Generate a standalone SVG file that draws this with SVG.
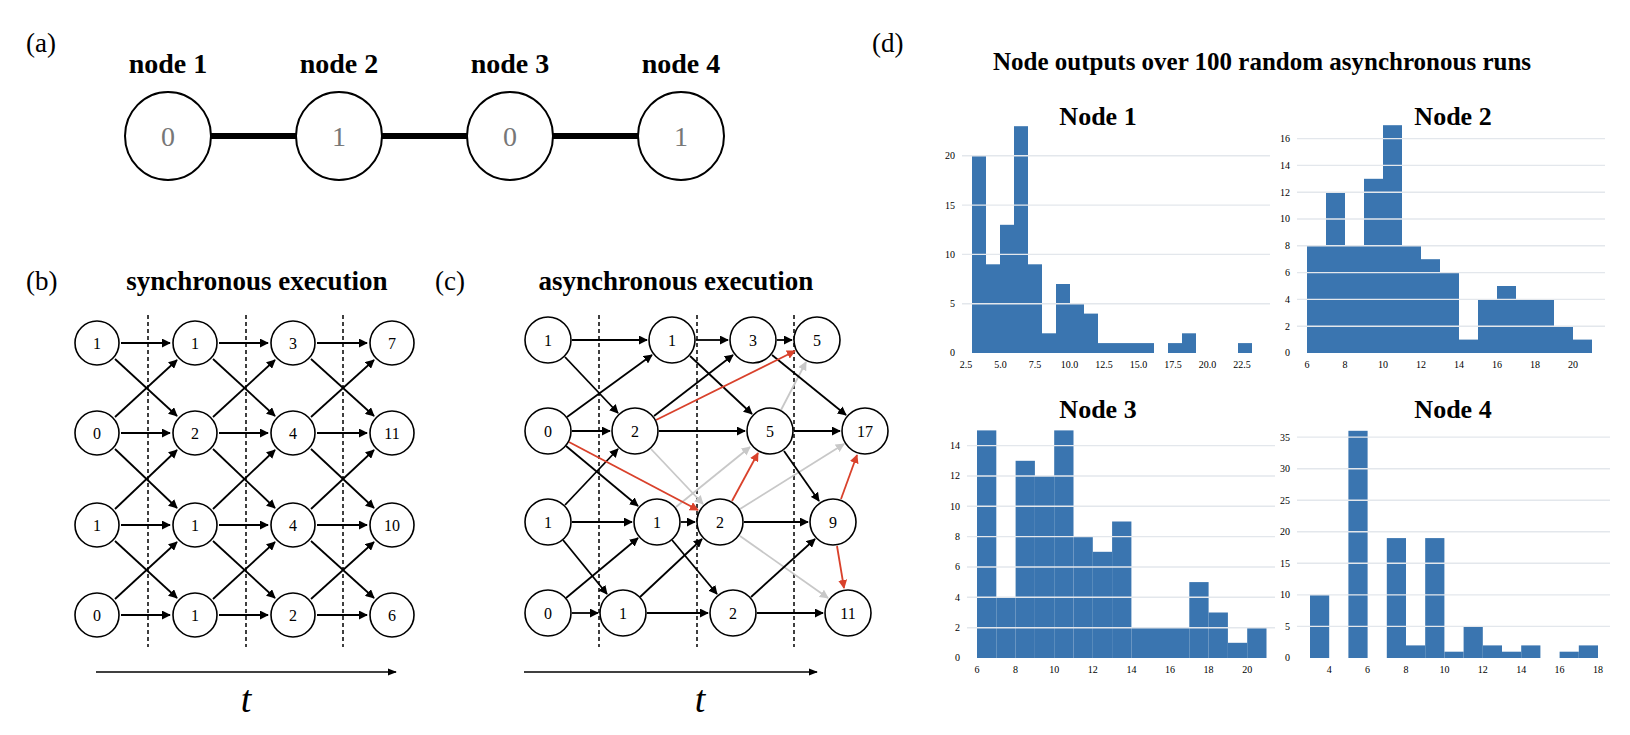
<svg xmlns="http://www.w3.org/2000/svg" width="1630" height="735" viewBox="0 0 1630 735">
<style>
text{font-family:"Liberation Serif","DejaVu Serif",serif;fill:#000}
.pl{font-size:27px}
.tt{font-size:27px;font-weight:bold}
.nl{font-size:22px;font-weight:bold}
.big circle,.big ellipse{fill:#fff;stroke:#000;stroke-width:2}
.big text{font-size:28px;fill:#777;text-anchor:middle}
.n circle{fill:#fff;stroke:#000;stroke-width:1.6}
.n text{font-size:16px;text-anchor:middle}
.e path{fill:none;stroke:#000;stroke-width:1.8;marker-end:url(#ab)}
.e path.r{stroke:#d9412b;marker-end:url(#ar)}
.e path.g{stroke:#c8c8c8;marker-end:url(#ag)}
.dash{stroke:#000;stroke-width:1.5;stroke-dasharray:4 3}
.ht{font-size:26px;font-weight:bold;text-anchor:middle}
.bar{fill:#3a75b0}
.grid{stroke:#e3e7ec;stroke-width:1.4}
.yl{font-size:10px;fill:#555;text-anchor:end}
.xl{font-size:10px;fill:#555;text-anchor:middle}
</style>
<defs>
<marker id="ab" viewBox="0 0 10 10" refX="9" refY="5" markerWidth="5" markerHeight="5" orient="auto"><path d="M0,0L10,5L0,10z" fill="#000"/></marker>
<marker id="ar" viewBox="0 0 10 10" refX="9" refY="5" markerWidth="5" markerHeight="5" orient="auto"><path d="M0,0L10,5L0,10z" fill="#d9412b"/></marker>
<marker id="ag" viewBox="0 0 10 10" refX="9" refY="5" markerWidth="5" markerHeight="5" orient="auto"><path d="M0,0L10,5L0,10z" fill="#c8c8c8"/></marker>
<marker id="ax" viewBox="0 0 10 10" refX="9" refY="5" markerWidth="6" markerHeight="6" orient="auto"><path d="M0,1L10,5L0,9z" fill="#000"/></marker>
</defs>

<!-- panel a -->
<text class="pl" x="26" y="52">(a)</text>
<g id="a-connectors" stroke="#000" stroke-width="6">
<line x1="211" y1="136" x2="296" y2="136"/>
<line x1="382" y1="136" x2="467" y2="136"/>
<line x1="553" y1="136" x2="638" y2="136"/>
</g>
<g id="a-node1" class="big"><text class="nl" x="168" y="73" style="fill:#000">node 1</text><ellipse cx="168" cy="136" rx="43" ry="44"/><text x="168" y="146">0</text></g>
<g id="a-node2" class="big"><text class="nl" x="339" y="73" style="fill:#000">node 2</text><ellipse cx="339" cy="136" rx="43" ry="44"/><text x="339" y="146">1</text></g>
<g id="a-node3" class="big"><text class="nl" x="510" y="73" style="fill:#000">node 3</text><ellipse cx="510" cy="136" rx="43" ry="44"/><text x="510" y="146">0</text></g>
<g id="a-node4" class="big"><text class="nl" x="681" y="73" style="fill:#000">node 4</text><ellipse cx="681" cy="136" rx="43" ry="44"/><text x="681" y="146">1</text></g>

<!-- panel b -->
<text class="pl" x="26" y="290">(b)</text>
<text class="tt" x="257" y="290" text-anchor="middle">synchronous execution</text>
<line class="dash" x1="148" y1="315" x2="148" y2="647"/>
<line class="dash" x1="246" y1="315" x2="246" y2="647"/>
<line class="dash" x1="343" y1="315" x2="343" y2="647"/>
<g id="b-connectors" class="e">
<path d="M121,343L170,343"/><path d="M219,343L268,343"/><path d="M317,343L367,343"/>
<path d="M121,433L170,433"/><path d="M219,433L268,433"/><path d="M317,433L367,433"/>
<path d="M121,525L170,525"/><path d="M219,525L268,525"/><path d="M317,525L367,525"/>
<path d="M121,615L170,615"/><path d="M219,615L268,615"/><path d="M317,615L367,615"/>
<path d="M115,359L177,416"/><path d="M115,449L177,508"/><path d="M115,541L177,598"/>
<path d="M213,359L275,416"/><path d="M213,449L275,508"/><path d="M213,541L275,598"/>
<path d="M311,359L374,416"/><path d="M311,449L374,508"/><path d="M311,541L374,598"/>
<path d="M115,417L177,360"/><path d="M115,509L177,450"/><path d="M115,599L177,542"/>
<path d="M213,417L275,360"/><path d="M213,509L275,450"/><path d="M213,599L275,542"/>
<path d="M311,417L374,360"/><path d="M311,509L374,450"/><path d="M311,599L374,542"/>
</g>
<g id="b-nodes" class="n">
<g id="b00"><circle cx="97" cy="343" r="22"/><text x="97" y="349">1</text></g>
<g id="b01"><circle cx="97" cy="433" r="22"/><text x="97" y="439">0</text></g>
<g id="b02"><circle cx="97" cy="525" r="22"/><text x="97" y="531">1</text></g>
<g id="b03"><circle cx="97" cy="615" r="22"/><text x="97" y="621">0</text></g>
<g id="b10"><circle cx="195" cy="343" r="22"/><text x="195" y="349">1</text></g>
<g id="b11"><circle cx="195" cy="433" r="22"/><text x="195" y="439">2</text></g>
<g id="b12"><circle cx="195" cy="525" r="22"/><text x="195" y="531">1</text></g>
<g id="b13"><circle cx="195" cy="615" r="22"/><text x="195" y="621">1</text></g>
<g id="b20"><circle cx="293" cy="343" r="22"/><text x="293" y="349">3</text></g>
<g id="b21"><circle cx="293" cy="433" r="22"/><text x="293" y="439">4</text></g>
<g id="b22"><circle cx="293" cy="525" r="22"/><text x="293" y="531">4</text></g>
<g id="b23"><circle cx="293" cy="615" r="22"/><text x="293" y="621">2</text></g>
<g id="b30"><circle cx="392" cy="343" r="22"/><text x="392" y="349">7</text></g>
<g id="b31"><circle cx="392" cy="433" r="22"/><text x="392" y="439">11</text></g>
<g id="b32"><circle cx="392" cy="525" r="22"/><text x="392" y="531">10</text></g>
<g id="b33"><circle cx="392" cy="615" r="22"/><text x="392" y="621">6</text></g>
</g>
<line x1="96" y1="672" x2="396" y2="672" stroke="#000" stroke-width="1.5" marker-end="url(#ax)"/>
<text x="246" y="712" font-size="38" font-style="italic" text-anchor="middle">t</text>

<!-- panel c -->
<text class="pl" x="435" y="290">(c)</text>
<text class="tt" x="676" y="290" text-anchor="middle">asynchronous execution</text>
<line class="dash" x1="599" y1="315" x2="599" y2="647"/>
<line class="dash" x1="697" y1="315" x2="697" y2="647"/>
<line class="dash" x1="794" y1="315" x2="794" y2="647"/>
<g id="c-connectors" class="e">
<path class="g" d="M651,449L703,504"/>
<path class="g" d="M676,507L750,447"/>
<path class="g" d="M781,410L806,362"/>
<path class="g" d="M740,509L844,444"/>
<path class="g" d="M740,536L828,598"/>
<path d="M572,340L647,340"/>
<path d="M565,357L618,413"/>
<path d="M567,417L652,355"/>
<path d="M572,431L610,431"/>
<path d="M566,446L638,506"/>
<path d="M565,505L618,449"/>
<path d="M572,522L632,522"/>
<path d="M563,540L607,594"/>
<path d="M566,598L638,538"/>
<path d="M572,613L598,613"/>
<path d="M696,340L728,340"/>
<path d="M690,356L752,414"/>
<path d="M654,416L733,355"/>
<path d="M659,431L745,431"/>
<path d="M681,522L695,522"/>
<path d="M672,540L717,594"/>
<path d="M640,597L702,539"/>
<path d="M647,613L708,613"/>
<path d="M777,340L792,340"/>
<path d="M772,355L846,415"/>
<path d="M794,431L840,431"/>
<path d="M784,451L819,501"/>
<path d="M744,522L808,522"/>
<path d="M751,597L815,539"/>
<path d="M757,613L823,613"/>
<path class="r" d="M569,442L698,510"/>
<path class="r" d="M656,420L795,351"/>
<path class="r" d="M732,501L758,453"/>
<path class="r" d="M841,499L857,455"/>
<path class="r" d="M837,546L844,588"/>
</g>
<g id="c-nodes" class="n">
<g id="cA1"><circle cx="548" cy="340" r="23"/><text x="548" y="346">1</text></g>
<g id="cA2"><circle cx="548" cy="431" r="23"/><text x="548" y="437">0</text></g>
<g id="cA3"><circle cx="548" cy="522" r="23"/><text x="548" y="528">1</text></g>
<g id="cA4"><circle cx="548" cy="613" r="23"/><text x="548" y="619">0</text></g>
<g id="cB1"><circle cx="672" cy="340" r="23"/><text x="672" y="346">1</text></g>
<g id="cB2"><circle cx="635" cy="431" r="23"/><text x="635" y="437">2</text></g>
<g id="cB3"><circle cx="657" cy="522" r="23"/><text x="657" y="528">1</text></g>
<g id="cB4"><circle cx="623" cy="613" r="23"/><text x="623" y="619">1</text></g>
<g id="cC1"><circle cx="753" cy="340" r="23"/><text x="753" y="346">3</text></g>
<g id="cC2"><circle cx="770" cy="431" r="23"/><text x="770" y="437">5</text></g>
<g id="cC3"><circle cx="720" cy="522" r="23"/><text x="720" y="528">2</text></g>
<g id="cC4"><circle cx="733" cy="613" r="23"/><text x="733" y="619">2</text></g>
<g id="cD1"><circle cx="817" cy="340" r="23"/><text x="817" y="346">5</text></g>
<g id="cD2"><circle cx="865" cy="431" r="23"/><text x="865" y="437">17</text></g>
<g id="cD3"><circle cx="833" cy="522" r="23"/><text x="833" y="528">9</text></g>
<g id="cD4"><circle cx="848" cy="613" r="23"/><text x="848" y="619">11</text></g>
</g>
<line x1="524" y1="672" x2="817" y2="672" stroke="#000" stroke-width="1.5" marker-end="url(#ax)"/>
<text x="700" y="712" font-size="38" font-style="italic" text-anchor="middle">t</text>

<!-- panel d -->
<text class="pl" x="872" y="52">(d)</text>
<text x="1262" y="70" font-size="25" font-weight="bold" text-anchor="middle">Node outputs over 100 random asynchronous runs</text>

<g id="hist1">
<text class="ht" x="1098" y="125">Node 1</text>
<rect class="bar" x="972" y="155.8" width="14" height="197.2"/>
<rect class="bar" x="986" y="264.3" width="14" height="88.7"/>
<rect class="bar" x="1000" y="224.8" width="14" height="128.2"/>
<rect class="bar" x="1014" y="126.2" width="14" height="226.8"/>
<rect class="bar" x="1028" y="264.3" width="14" height="88.7"/>
<rect class="bar" x="1042" y="333.3" width="14" height="19.7"/>
<rect class="bar" x="1056" y="284" width="14" height="69"/>
<rect class="bar" x="1070" y="303.7" width="14" height="49.3"/>
<rect class="bar" x="1084" y="313.6" width="14" height="39.4"/>
<rect class="bar" x="1098" y="343.1" width="56" height="9.9"/>
<rect class="bar" x="1168" y="343.1" width="14" height="9.9"/>
<rect class="bar" x="1182" y="333.3" width="14" height="19.7"/>
<rect class="bar" x="1238" y="343.1" width="14" height="9.9"/>
<g class="grid"><line x1="962" y1="303.7" x2="1270" y2="303.7"/><line x1="962" y1="254.4" x2="1270" y2="254.4"/><line x1="962" y1="205.1" x2="1270" y2="205.1"/><line x1="962" y1="155.8" x2="1270" y2="155.8"/></g>
<g class="yl"><text x="955" y="356">0</text><text x="955" y="307">5</text><text x="955" y="258">10</text><text x="955" y="209">15</text><text x="955" y="159">20</text></g>
<g class="xl"><text x="966" y="368">2.5</text><text x="1000.5" y="368">5.0</text><text x="1035" y="368">7.5</text><text x="1069.5" y="368">10.0</text><text x="1104" y="368">12.5</text><text x="1138.5" y="368">15.0</text><text x="1173" y="368">17.5</text><text x="1207.5" y="368">20.0</text><text x="1242" y="368">22.5</text></g>
</g>

<g id="hist2">
<text class="ht" x="1453" y="125">Node 2</text>
<rect class="bar" x="1307" y="245.8" width="19" height="107.2"/>
<rect class="bar" x="1326" y="192.2" width="19" height="160.8"/>
<rect class="bar" x="1345" y="245.8" width="19" height="107.2"/>
<rect class="bar" x="1364" y="178.8" width="19" height="174.2"/>
<rect class="bar" x="1383" y="125.2" width="19" height="227.8"/>
<rect class="bar" x="1402" y="245.8" width="19" height="107.2"/>
<rect class="bar" x="1421" y="259.2" width="19" height="93.8"/>
<rect class="bar" x="1440" y="272.6" width="19" height="80.4"/>
<rect class="bar" x="1459" y="339.6" width="19" height="13.4"/>
<rect class="bar" x="1478" y="299.4" width="19" height="53.6"/>
<rect class="bar" x="1497" y="286" width="19" height="67"/>
<rect class="bar" x="1516" y="299.4" width="38" height="53.6"/>
<rect class="bar" x="1554" y="326.2" width="19" height="26.8"/>
<rect class="bar" x="1573" y="339.6" width="19" height="13.4"/>
<g class="grid"><line x1="1297" y1="326.2" x2="1605" y2="326.2"/><line x1="1297" y1="299.4" x2="1605" y2="299.4"/><line x1="1297" y1="272.6" x2="1605" y2="272.6"/><line x1="1297" y1="245.8" x2="1605" y2="245.8"/><line x1="1297" y1="219" x2="1605" y2="219"/><line x1="1297" y1="192.2" x2="1605" y2="192.2"/><line x1="1297" y1="165.4" x2="1605" y2="165.4"/><line x1="1297" y1="138.6" x2="1605" y2="138.6"/></g>
<g class="yl"><text x="1290" y="356">0</text><text x="1290" y="330">2</text><text x="1290" y="303">4</text><text x="1290" y="276">6</text><text x="1290" y="249">8</text><text x="1290" y="222">10</text><text x="1290" y="196">12</text><text x="1290" y="169">14</text><text x="1290" y="142">16</text></g>
<g class="xl"><text x="1307" y="368">6</text><text x="1345" y="368">8</text><text x="1383" y="368">10</text><text x="1421" y="368">12</text><text x="1459" y="368">14</text><text x="1497" y="368">16</text><text x="1535" y="368">18</text><text x="1573" y="368">20</text></g>
</g>

<g id="hist3">
<text class="ht" x="1098" y="418">Node 3</text>
<rect class="bar" x="977" y="430.4" width="19.3" height="227.6"/>
<rect class="bar" x="996.3" y="597.3" width="19.3" height="60.7"/>
<rect class="bar" x="1015.6" y="460.8" width="19.3" height="197.2"/>
<rect class="bar" x="1034.9" y="476" width="19.3" height="182"/>
<rect class="bar" x="1054.2" y="430.4" width="19.3" height="227.6"/>
<rect class="bar" x="1073.5" y="536.6" width="19.3" height="121.4"/>
<rect class="bar" x="1092.8" y="551.8" width="19.3" height="106.2"/>
<rect class="bar" x="1112.1" y="521.5" width="19.3" height="136.5"/>
<rect class="bar" x="1131.4" y="627.7" width="57.9" height="30.3"/>
<rect class="bar" x="1189.3" y="582.1" width="19.3" height="75.9"/>
<rect class="bar" x="1208.6" y="612.5" width="19.3" height="45.5"/>
<rect class="bar" x="1227.9" y="642.8" width="19.3" height="15.2"/>
<rect class="bar" x="1247.2" y="627.7" width="19.3" height="30.3"/>
<g class="grid"><line x1="967" y1="627.7" x2="1275" y2="627.7"/><line x1="967" y1="597.3" x2="1275" y2="597.3"/><line x1="967" y1="567" x2="1275" y2="567"/><line x1="967" y1="536.6" x2="1275" y2="536.6"/><line x1="967" y1="506.3" x2="1275" y2="506.3"/><line x1="967" y1="476" x2="1275" y2="476"/><line x1="967" y1="445.6" x2="1275" y2="445.6"/></g>
<g class="yl"><text x="960" y="661">0</text><text x="960" y="631">2</text><text x="960" y="601">4</text><text x="960" y="570">6</text><text x="960" y="540">8</text><text x="960" y="510">10</text><text x="960" y="479">12</text><text x="960" y="449">14</text></g>
<g class="xl"><text x="977" y="673">6</text><text x="1015.6" y="673">8</text><text x="1054.2" y="673">10</text><text x="1092.8" y="673">12</text><text x="1131.4" y="673">14</text><text x="1170" y="673">16</text><text x="1208.6" y="673">18</text><text x="1247.2" y="673">20</text></g>
</g>

<g id="hist4">
<text class="ht" x="1453" y="418">Node 4</text>
<rect class="bar" x="1310" y="594.9" width="19.2" height="63.1"/>
<rect class="bar" x="1348.4" y="430.8" width="19.2" height="227.2"/>
<rect class="bar" x="1386.8" y="538.1" width="19.2" height="119.9"/>
<rect class="bar" x="1406" y="645.4" width="19.2" height="12.6"/>
<rect class="bar" x="1425.2" y="538.1" width="19.2" height="119.9"/>
<rect class="bar" x="1444.4" y="651.7" width="19.2" height="6.3"/>
<rect class="bar" x="1463.6" y="626.4" width="19.2" height="31.6"/>
<rect class="bar" x="1482.8" y="645.4" width="19.2" height="12.6"/>
<rect class="bar" x="1502" y="651.7" width="19.2" height="6.3"/>
<rect class="bar" x="1521.2" y="645.4" width="19.2" height="12.6"/>
<rect class="bar" x="1559.6" y="651.7" width="19.2" height="6.3"/>
<rect class="bar" x="1578.8" y="645.4" width="19.2" height="12.6"/>
<g class="grid"><line x1="1297" y1="626.4" x2="1610" y2="626.4"/><line x1="1297" y1="594.9" x2="1610" y2="594.9"/><line x1="1297" y1="563.3" x2="1610" y2="563.3"/><line x1="1297" y1="531.8" x2="1610" y2="531.8"/><line x1="1297" y1="500.2" x2="1610" y2="500.2"/><line x1="1297" y1="468.7" x2="1610" y2="468.7"/><line x1="1297" y1="437.1" x2="1610" y2="437.1"/></g>
<g class="yl"><text x="1290" y="661">0</text><text x="1290" y="630">5</text><text x="1290" y="598">10</text><text x="1290" y="567">15</text><text x="1290" y="535">20</text><text x="1290" y="504">25</text><text x="1290" y="472">30</text><text x="1290" y="441">35</text></g>
<g class="xl"><text x="1329.2" y="673">4</text><text x="1367.6" y="673">6</text><text x="1406" y="673">8</text><text x="1444.4" y="673">10</text><text x="1482.8" y="673">12</text><text x="1521.2" y="673">14</text><text x="1559.6" y="673">16</text><text x="1598" y="673">18</text></g>
</g>
</svg>
